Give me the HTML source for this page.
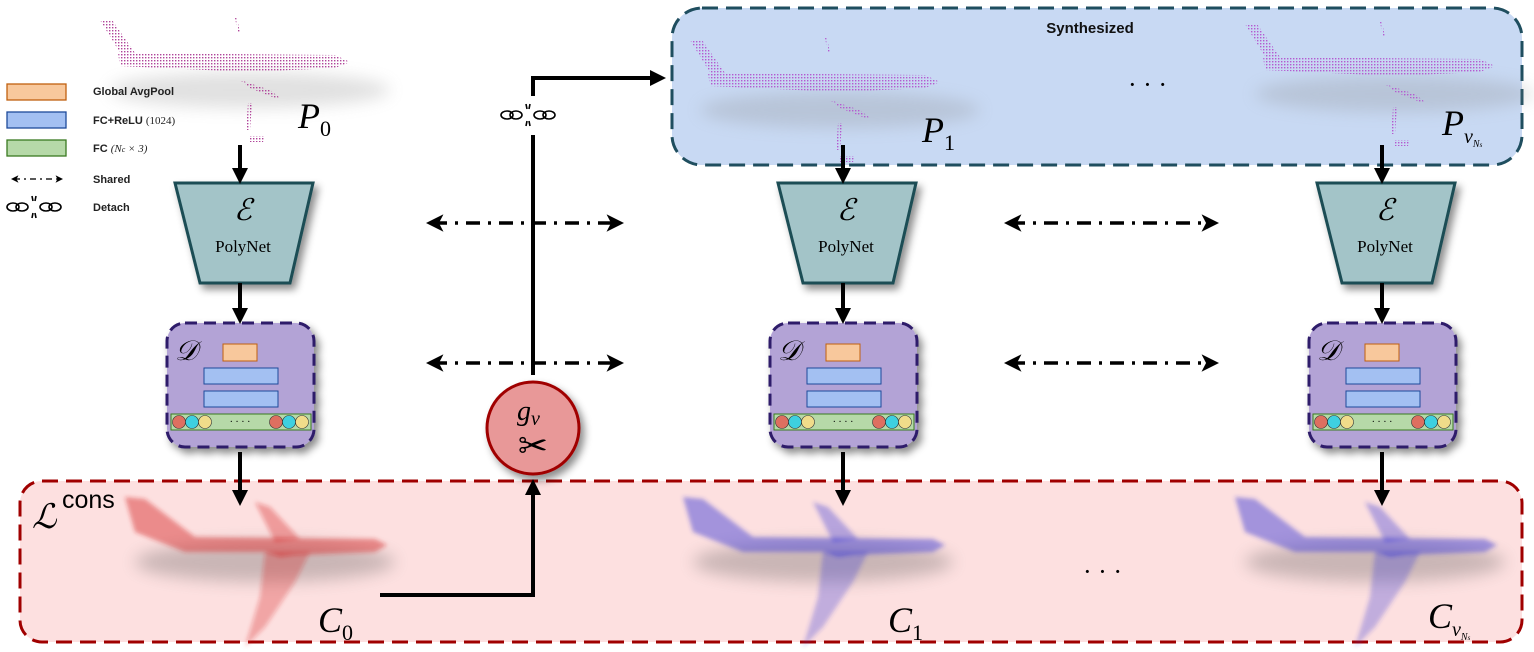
<!DOCTYPE html>
<html><head><meta charset="utf-8"><style>
body{margin:0;background:#fff;width:1534px;height:652px;overflow:hidden}
svg{display:block}
text{font-family:"Liberation Serif",serif}
text.b,.b text{font-family:"Liberation Sans",sans-serif;font-weight:bold}
</style></head><body>
<svg width="1534" height="652" viewBox="0 0 1534 652" xmlns="http://www.w3.org/2000/svg">
<defs>
<filter id="bl" x="-20%" y="-50%" width="140%" height="200%"><feGaussianBlur stdDeviation="8"/></filter>
<filter id="bl2" x="-10%" y="-10%" width="120%" height="120%"><feGaussianBlur stdDeviation="2"/></filter>
<filter id="sh" x="-20%" y="-20%" width="150%" height="150%"><feDropShadow dx="4" dy="5" stdDeviation="4" flood-color="#000" flood-opacity="0.45"/></filter>
<marker id="ah" markerWidth="5" markerHeight="5" refX="3" refY="2.5" orient="auto-start-reverse"><path d="M0,0 L5,2.5 L0,5 L1.3,2.5 Z" fill="#000"/></marker>
<marker id="ah2" markerWidth="4" markerHeight="4" refX="2.5" refY="2" orient="auto"><path d="M0,0 L4,2 L0,4 Z" fill="#000"/></marker>
<pattern id="pd" width="3" height="3" patternUnits="userSpaceOnUse"><rect width="1.4" height="1.4" fill="#b0449a"/></pattern>
<pattern id="pd2" width="3" height="3" patternUnits="userSpaceOnUse"><rect width="1.4" height="1.4" fill="#b45ad0"/></pattern>
<g id="cplane">
<ellipse cx="140" cy="65" rx="130" ry="20" fill="#555" opacity="0.3" filter="url(#bl)"/>
<g filter="url(#bl2)">
<path d="M0,0 L20,2 L70,40 L250,42 L262,48 L250,55 L170,58 L155,60 L140,55 L60,55 L10,35 Z" opacity="0.45"/>
<path d="M130,5 L145,10 L175,42 L150,45 Z" opacity="0.35"/>
<path d="M140,55 L185,55 L170,85 L140,130 L120,150 L135,100 Z" opacity="0.3"/>
</g>
</g>
<g id="pplane">
<ellipse cx="150" cy="72" rx="140" ry="18" fill="#888" stroke="none" opacity="0.25" filter="url(#bl)"/>
<path d="M0,2 L12,2 L35,35 L22,38 Z"/>
<path d="M18,35 L235,37 L250,44 L235,50 L150,54 L20,48 Z"/>
<path d="M135,0 L137,0 L140,15 L138,15 Z"/>
<path d="M140,62 L170,72 L180,80 L175,80 L150,70 Z"/>
<path d="M148,85 L152,85 L150,112 L146,112 Z"/>
<path d="M150,118 L165,118 L163,124 L150,124 Z"/>
</g>
</defs>

<rect x="672" y="8" width="850" height="157" rx="30" fill="#c8d9f3" stroke="#1f4e5f" stroke-width="3" stroke-dasharray="16 8"/>
<text x="1090" y="33" class="b" font-size="15" text-anchor="middle" fill="#111">Synthesized</text>
<rect x="20" y="481" width="1502" height="161" rx="22" fill="#fde0e0" stroke="#a00000" stroke-width="3" stroke-dasharray="16 8"/>
<text x="32" y="528" font-size="34" font-style="italic">ℒ</text>
<text x="62" y="508" font-size="25" style="font-family:'Liberation Sans',sans-serif">cons</text>

<use href="#pplane" x="100" y="18" fill="url(#pd)"/>
<use href="#pplane" x="690" y="38" fill="url(#pd2)"/>
<use href="#pplane" x="1245" y="22" fill="url(#pd2)"/>
<text x="1128" y="93" font-size="26">· · ·</text>
<text x="1083" y="580" font-size="26">· · ·</text>
<use href="#cplane" x="125" y="497" fill="#d42020"/>
<use href="#cplane" x="683" y="497" fill="#3535d8"/>
<use href="#cplane" x="1235" y="497" fill="#3535d8"/>

<g font-style="italic" font-size="36">
<text x="298" y="128">P<tspan font-size="22" dy="8" font-style="normal">0</tspan></text>
<text x="922" y="142">P<tspan font-size="22" dy="8" font-style="normal">1</tspan></text>
<text x="1442" y="135">P<tspan font-size="20" dy="8">v</tspan><tspan font-size="10" dy="4">N<tspan font-size="7">s</tspan></tspan></text>
<text x="318" y="632">C<tspan font-size="22" dy="8" font-style="normal">0</tspan></text>
<text x="888" y="632">C<tspan font-size="22" dy="8" font-style="normal">1</tspan></text>
<text x="1428" y="628">C<tspan font-size="20" dy="8">v</tspan><tspan font-size="10" dy="4">N<tspan font-size="7">s</tspan></tspan></text>
</g>

<rect x="7" y="84" width="59" height="16" fill="#f8c89c" stroke="#c06010" stroke-width="1.3"/>
<rect x="7" y="112" width="59" height="16" fill="#a3c0f2" stroke="#1e4a9a" stroke-width="1.3"/>
<rect x="7" y="140" width="59" height="16" fill="#b6d9a8" stroke="#3a7a20" stroke-width="1.3"/>
<g class="b" font-size="11" fill="#222">
<text x="93" y="95">Global AvgPool</text>
<text x="93" y="124">FC+ReLU <tspan style="font-family:'Liberation Serif',serif;font-weight:normal">(1024)</tspan></text>
<text x="93" y="152">FC <tspan style="font-family:'Liberation Serif',serif;font-weight:normal;font-style:italic">(N<tspan font-size="8">c</tspan> × 3)</tspan></text>
<text x="93" y="183">Shared</text>
<text x="93" y="211">Detach</text>
</g>
<line x1="14" y1="179" x2="60" y2="179" stroke="#222" stroke-width="1.5" stroke-dasharray="6 4 2 4" marker-start="url(#ah)" marker-end="url(#ah)"/>
<g id="det" fill="none" stroke="#000" stroke-width="1.6">
<ellipse cx="13" cy="207" rx="6" ry="4"/><ellipse cx="22" cy="207" rx="6" ry="4"/>
<ellipse cx="46" cy="207" rx="6" ry="4"/><ellipse cx="55" cy="207" rx="6" ry="4"/>
<path d="M32,196 L33,201 M36,196 L35,201 M32,218 L33,213 M36,218 L35,213"/>
</g>
<use href="#det" x="494" y="-92"/>

<g id="enc">
<polygon points="175,183 313,183 290,283 200,283" fill="#a3c4c8" stroke="#1d4e55" stroke-width="3" filter="url(#sh)"/>
<text x="243" y="220" font-size="30" font-style="italic" text-anchor="middle">ℰ</text>
<text x="243" y="252" font-size="17" text-anchor="middle">PolyNet</text>
</g>
<use href="#enc" x="603"/>
<use href="#enc" x="1142"/>

<g id="dec">
<rect x="167" y="323" width="147" height="124" rx="18" fill="#b3a3d6" stroke="#2e1a6b" stroke-width="3" stroke-dasharray="12 7" filter="url(#sh)"/>
<text x="175" y="360" font-size="28" font-style="italic">𝒟</text>
<rect x="223" y="344" width="34" height="17" fill="#f8c89c" stroke="#c06010" stroke-width="1"/>
<rect x="204" y="368" width="74" height="16" fill="#a3c0f2" stroke="#1e4a9a" stroke-width="1"/>
<rect x="204" y="391" width="74" height="16" fill="#a3c0f2" stroke="#1e4a9a" stroke-width="1"/>
<rect x="171" y="414" width="140" height="16" fill="#b6d9a8" stroke="#3a7a20" stroke-width="1"/>
<g stroke="#333" stroke-width="0.6">
<circle cx="179" cy="422" r="6.5" fill="#de6f60"/><circle cx="192" cy="422" r="6.5" fill="#3ed0e0"/><circle cx="205" cy="422" r="6.5" fill="#f0dc8a"/>
<circle cx="276" cy="422" r="6.5" fill="#de6f60"/><circle cx="289" cy="422" r="6.5" fill="#3ed0e0"/><circle cx="302" cy="422" r="6.5" fill="#f0dc8a"/>
</g>
<text x="240" y="425" font-size="10" text-anchor="middle">· · · ·</text>
</g>
<use href="#dec" x="603"/>
<use href="#dec" x="1142"/>

<g stroke="#000" stroke-width="4" marker-end="url(#ah2)">
<line x1="240" y1="145" x2="240" y2="178"/>
<line x1="240" y1="283" x2="240" y2="318"/>
<line x1="240" y1="452" x2="240" y2="500"/>
<line x1="843" y1="145" x2="843" y2="178"/>
<line x1="843" y1="283" x2="843" y2="318"/>
<line x1="843" y1="452" x2="843" y2="500"/>
<line x1="1382" y1="145" x2="1382" y2="178"/>
<line x1="1382" y1="283" x2="1382" y2="318"/>
<line x1="1382" y1="452" x2="1382" y2="500"/>
</g>
<g stroke="#000" stroke-width="3.5" stroke-dasharray="14 8 3 8" marker-start="url(#ah)" marker-end="url(#ah)">
<line x1="433" y1="223" x2="617" y2="223"/>
<line x1="433" y1="363" x2="617" y2="363"/>
<line x1="1011" y1="223" x2="1212" y2="223"/>
<line x1="1011" y1="363" x2="1212" y2="363"/>
</g>
<g stroke="#000" stroke-width="4" fill="none">
<polyline points="533,96 533,78 660,78" marker-end="url(#ah2)"/>
<line x1="533" y1="135" x2="533" y2="375"/>
<polyline points="380,595 533,595 533,485" marker-end="url(#ah2)"/>
</g>
<circle cx="533" cy="428" r="46" fill="#e89898" stroke="#a00000" stroke-width="3" filter="url(#sh)"/>
<text x="517" y="420" font-size="28" font-style="italic">g<tspan font-size="20" dy="5">v</tspan></text>
<text x="533" y="458" font-size="36" text-anchor="middle" style="font-family:'DejaVu Sans',sans-serif">✂</text>
</svg>
</body></html>
